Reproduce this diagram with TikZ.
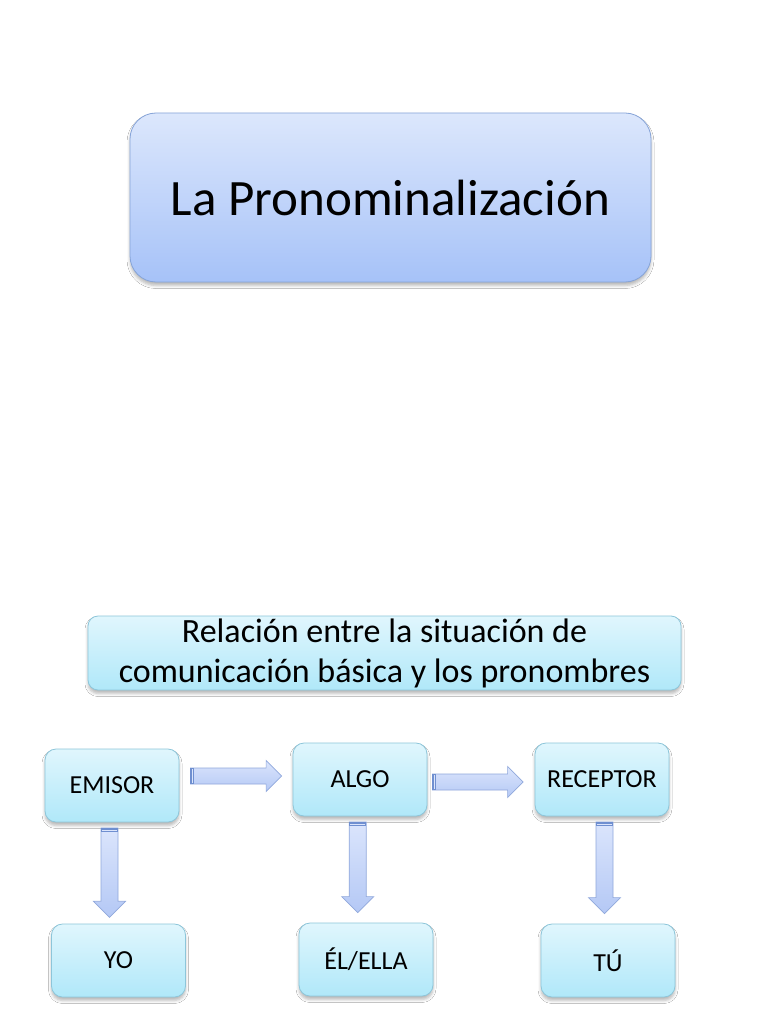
\documentclass[tikz,border=0pt]{standalone}
\usepackage{fontspec}
\setmainfont{Carlito}
\usetikzlibrary{calc,shadows.blur}
\definecolor{tTop}{HTML}{DCE7FC}
\definecolor{tBot}{HTML}{A6C2F8}
\definecolor{tBrd}{HTML}{86A4D8}
\definecolor{cTop}{HTML}{E0F6FD}
\definecolor{cBot}{HTML}{B0E8F9}
\definecolor{cBrd}{HTML}{8DC6DA}
\definecolor{aTop}{HTML}{DBE5FC}
\definecolor{aBot}{HTML}{B4C8F5}
\definecolor{aBrd}{HTML}{90A8DC}
\definecolor{aStub}{HTML}{6F8FD0}
\tikzset{
  shadowed/.style={blur shadow={shadow xshift=0pt,shadow yshift=-3.5pt,shadow blur radius=3pt,shadow opacity=28}},
  titlebox/.style={draw=tBrd,line width=0.8pt,top color=tTop,bottom color=tBot,rounded corners=26pt,
    minimum width=521pt,minimum height=169pt,inner sep=0pt,shadowed,
    font=\fontsize{51}{60}\selectfont},
  subbox/.style={draw=cBrd,line width=0.8pt,top color=cTop,bottom color=cBot,rounded corners=10pt,
    minimum width=593pt,minimum height=74pt,inner sep=0pt,shadowed,align=center,
    font=\fontsize{34}{40}\selectfont},
  smallbox/.style={draw=cBrd,line width=0.8pt,top color=cTop,bottom color=cBot,rounded corners=11pt,
    minimum width=134pt,minimum height=73pt,inner sep=0pt,shadowed,
    font=\fontsize{26}{30}\selectfont},
  blockarrow/.style={draw=aBrd,line width=0.7pt,top color=aTop,bottom color=aBot},
}
\begin{document}
\begin{tikzpicture}[x=1pt,y=-1pt]
\useasboundingbox[fill=white] (0,0) rectangle (768,1024);
\node[titlebox] (title) at (390.5,197.5) {La Pronominalización};
\node[subbox] (sub) at (384.5,653) {Relación entre la situación de\\comunicación básica y los pronombres};
\node[smallbox] (emisor) at (112,785.5) {EMISOR};
\node[smallbox] (algo) at (360,779.5) {ALGO};
\node[smallbox] (receptor) at (602,779.5) {RECEPTOR};
\node[smallbox] (yo) at (118.5,960.5) {YO};
\node[smallbox] (el) at (366,959.5) {ÉL/ELLA};
\node[smallbox] (tu) at (608,960.5) {TÚ};
% horizontal arrows
\coordinate (h1s) at ($(emisor.east)+(11,-9.5)$);
\coordinate (h1e) at ($(algo.west)+(-11,-3.5)$);
\coordinate (h2s) at ($(algo.east)+(5,2.5)$);
\coordinate (h2e) at ($(receptor.west)+(-11.5,2.5)$);
\foreach \s/\e in {h1s/h1e,h2s/h2e}{
  \path[blockarrow] let \p1=(\s), \p2=(\e) in
    (\x1,\y1+8pt) -- (\x2-15.5pt,\y1+8pt) -- (\x2-15.5pt,\y1+15.5pt) -- (\x2,\y1)
    -- (\x2-15.5pt,\y1-15.5pt) -- (\x2-15.5pt,\y1-8pt) -- (\x1,\y1-8pt) -- cycle;
  \path let \p1=(\s) in [fill=aStub] (\x1,\y1-8pt) rectangle (\x1+4pt,\y1+8pt);
  \path let \p1=(\s) in [draw=aTop,line width=0.6pt] (\x1+2pt,\y1-7pt) -- (\x1+2pt,\y1+7pt);
}
% vertical arrows
\coordinate (v1s) at ($(emisor.south)+(-2.5,5.5)$);
\coordinate (v1e) at ($(yo.north)+(-9,-6.3)$);
\coordinate (v2s) at ($(algo.south)+(-2.3,5.5)$);
\coordinate (v2e) at ($(el.north)+(-8.3,-10)$);
\coordinate (v3s) at ($(receptor.south)+(2.5,5.5)$);
\coordinate (v3e) at ($(tu.north)+(-3.5,-10)$);
\foreach \s/\e in {v1s/v1e,v2s/v2e,v3s/v3e}{
  \path[blockarrow] let \p1=(\s), \p2=(\e) in
    (\x1-8.5pt,\y1) -- (\x1-8.5pt,\y2+16pt) -- (\x1-16pt,\y2+16pt) -- (\x1,\y2)
    -- (\x1+16pt,\y2+16pt) -- (\x1+8.5pt,\y2+16pt) -- (\x1+8.5pt,\y1) -- cycle;
  \path let \p1=(\s) in [fill=aStub] (\x1-8.5pt,\y1) rectangle (\x1+8.5pt,\y1-4pt);
  \path let \p1=(\s) in [draw=aTop,line width=0.6pt] (\x1-7.5pt,\y1-2pt) -- (\x1+7.5pt,\y1-2pt);
}
\end{tikzpicture}
\end{document}
